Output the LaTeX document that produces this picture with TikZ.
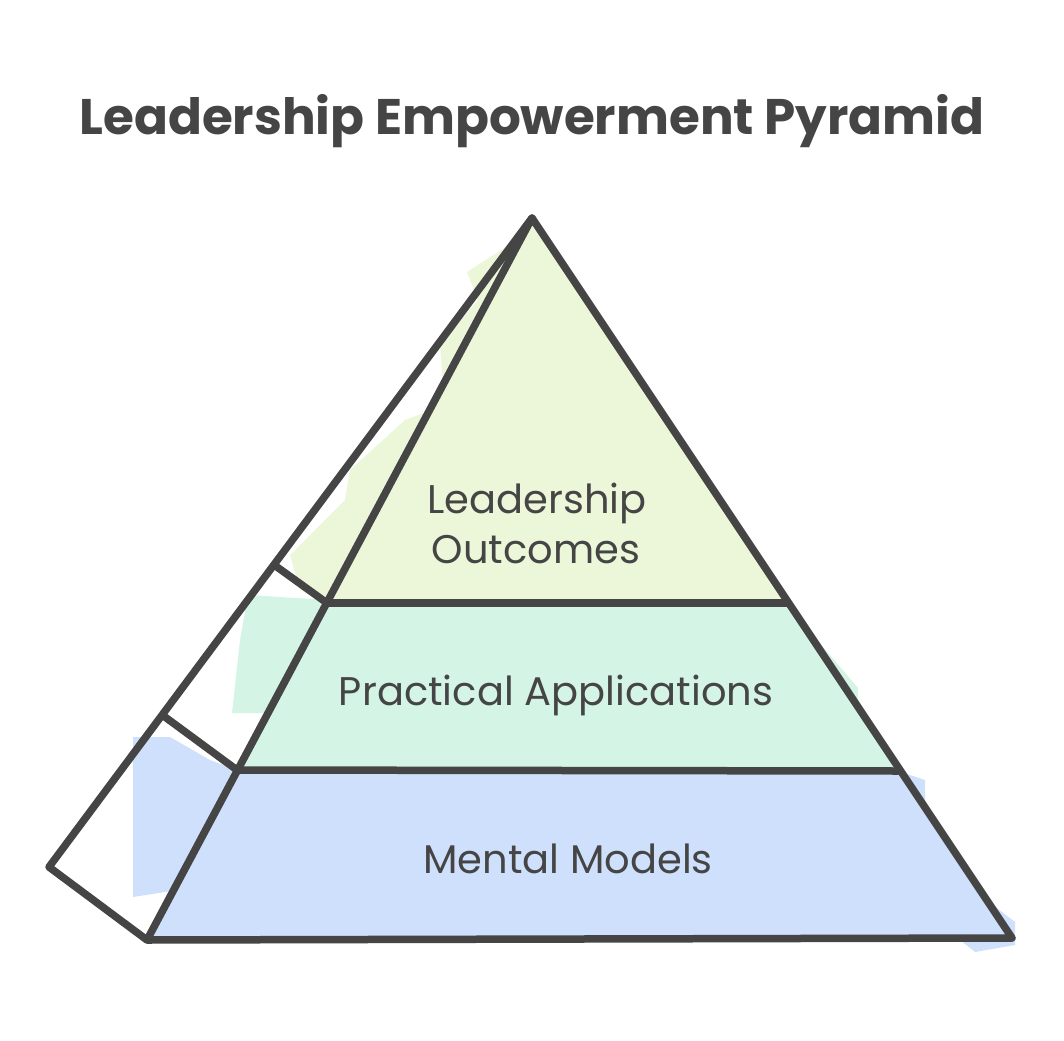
\documentclass[tikz,border=0pt]{standalone}
\usepackage{fontspec}
\usepackage{graphicx}
\setmainfont{Poppins}
\definecolor{ink}{HTML}{454545}
\definecolor{fgreen}{HTML}{EBF7D8}
\definecolor{fmint}{HTML}{D4F5E6}
\definecolor{fblue}{HTML}{CFE0FC}
\newcommand{\fitw}[2]{\resizebox{#1}{!}{#2}}
\tikzset{
  edge/.style={draw=ink, line width=7.5pt, line cap=round, line join=round},
  lbl/.style={text=ink, inner sep=0pt, anchor=base, font=\fontsize{40}{48}\selectfont},
  ttl/.style={text=ink, inner sep=0pt, anchor=base, font=\bfseries\fontsize{48}{56}\selectfont},
}
\begin{document}
\begin{tikzpicture}[x=1pt,y=-1pt]
\useasboundingbox[fill=white] (0,0) rectangle (1064,1040);
% key points
\coordinate (apex) at (532,218);
\coordinate (L) at (49,867);
\coordinate (BL) at (147,940);
\coordinate (BR) at (1012,938);
\coordinate (a1) at (327,603);
\coordinate (b1) at (786,603);
\coordinate (a2) at (237,770);
\coordinate (b2) at (898,771);
\coordinate (f1) at (277,567);
\coordinate (f2) at (165,717);
% fills
\fill[fgreen] (apex) -- (a1) -- (b1) -- cycle;
\fill[fgreen] (520,238) -- (467,272) -- (478,300) -- (440,345) -- (445,405) -- (405,420) -- (350,470) -- (345,500) -- (290,555) -- (300,590) -- (327,603) -- (apex) -- cycle;
\fill[fmint] (a1) -- (b1) -- (b2) -- (a2) -- cycle;
\fill[fmint] (248,595) -- (327,600) -- (268,713) -- (232,713) -- (240,640) -- cycle;
\fill[fmint] (800,620) -- (858,688) -- (858,745) -- (895,770) -- (860,785) -- (830,770) -- cycle;
\fill[fblue] (a2) -- (b2) -- (BR) -- (BL) -- cycle;
\fill[fblue] (133,737) -- (170,737) -- (210,760) -- (237,770) -- (178,890) -- (133,897) -- cycle;
\fill[fblue] (898,771) -- (925,780) -- (925,860) -- (960,880) -- (1015,922) -- (1015,945) -- (975,952) -- (960,940) -- cycle;
% outlines
\draw[edge] (apex) -- (L) -- (BL);
\draw[edge] (apex) -- (BL) -- (BR) -- cycle;
\draw[edge] (a1) -- (b1);
\draw[edge] (a2) -- (b2);
\draw[edge] (f1) -- (a1);
\draw[edge] (f2) -- (a2);
% texts
\node[ttl] (title) at (532,135) {\fitw{905pt}{Leadership Empowerment Pyramid}};
\node[lbl] (t1a) at (537,513) {Leadership};
\node[lbl] (t1b) at (536,563) {Outcomes};
\node[lbl] (t2) at (556,705) {Practical Applications};
\node[lbl] (t3) at (568,873) {Mental Models};
\end{tikzpicture}
\end{document}
